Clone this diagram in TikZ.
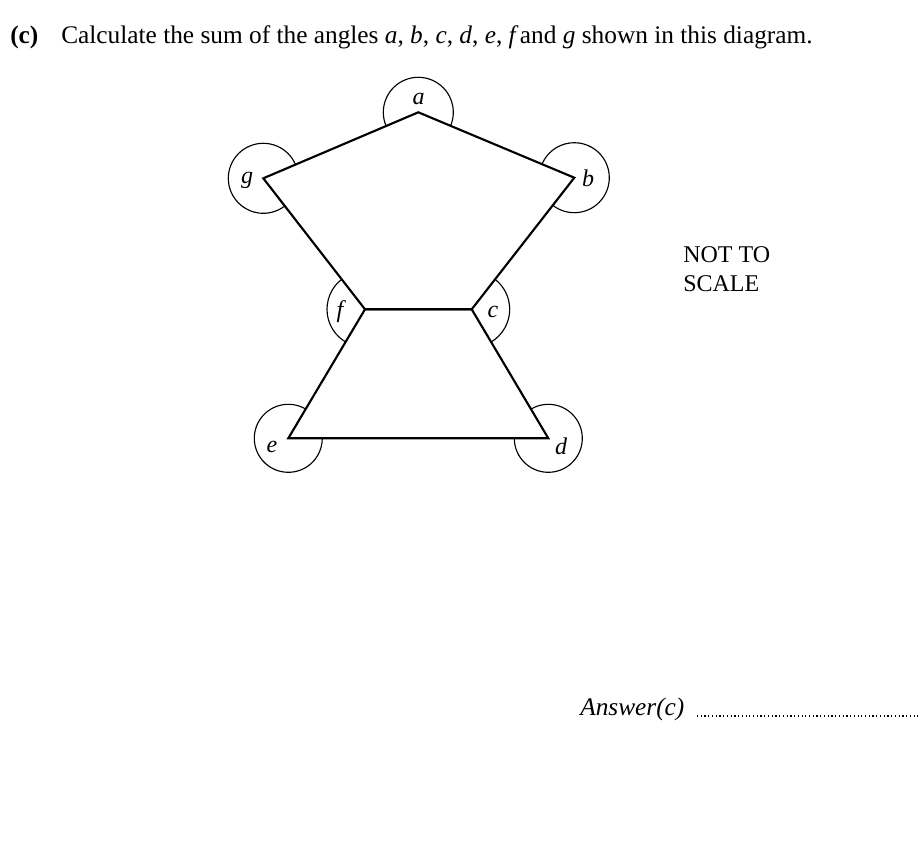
\documentclass[tikz,border=0pt]{standalone}
\usepackage{fontspec}
\setmainfont{Liberation Serif}
\usetikzlibrary{angles}
\tikzset{
  edge/.style={line width=1.6pt, line join=miter},
  anglearc/.style={draw, line width=0.85pt},
  lbl/.style={font=\fontsize{18}{20}\selectfont\itshape, inner sep=0pt},
  body/.style={font=\fontsize{19}{22}\selectfont, inner sep=0pt, anchor=base west},
  side/.style={font=\fontsize{18}{21}\selectfont, inner sep=0pt, anchor=base west},
}
\begin{document}
\begin{tikzpicture}[x=0.75pt, y=-0.75pt]
\useasboundingbox (0,0) rectangle (921,853);
% vertices
\coordinate (A) at (418.3,112.3);
\coordinate (B) at (574.3,177.7);
\coordinate (G) at (263.3,178.3);
\coordinate (F) at (365,309.3);
\coordinate (C) at (471.7,309.3);
\coordinate (E) at (288.3,438.3);
\coordinate (D) at (548.3,438.3);
% shapes
\draw[edge] (A) -- (B) -- (C) -- (F) -- (G) -- cycle;
\draw[edge] (F) -- (C) -- (D) -- (E) -- cycle;
% angle arcs
\pic[anglearc, angle radius=26.25pt] {angle = B--A--G};
\pic[anglearc, angle radius=26.25pt] {angle = A--G--F};
\pic[anglearc, angle radius=26.25pt] {angle = C--B--A};
\pic[anglearc, angle radius=28.5pt] {angle = G--F--E};
\pic[anglearc, angle radius=28.5pt] {angle = D--C--B};
\pic[anglearc, angle radius=25.5pt] {angle = F--E--D};
\pic[anglearc, angle radius=25.5pt] {angle = E--D--C};
% angle labels
\node[lbl] (la) at (418.5,99) {a};
\node[lbl] (lg) at (247,180) {g};
\node[lbl] (lb) at (588,178) {b};
\node[lbl] (lf) at (340,312) {f};
\node[lbl] (lc) at (493,312) {c};
\node[lbl] (le) at (272,447) {e};
\node[lbl] (ld) at (561,446) {d};
% texts
\node[body] (qnum) at (10,43) {\bfseries (c)};
\node[body] (qtext) at (61,43) {Calculate the sum of the angles \textit{a}, \textit{b}, \textit{c}, \textit{d}, \textit{e}, \textit{f\,}and \textit{g} shown in this diagram.};
\node[side] (nt1) at (683,262) {NOT TO};
\node[side] (nt2) at (683,291.5) {SCALE};
\node[body] (ans) at (580,715) {\itshape Answer(c)};
\coordinate (dotstart) at (697,716);
\coordinate (dotend) at (921,716);
\draw[line width=1pt, dash pattern=on 0.9pt off 1.9pt] (dotstart) -- (dotend);
\end{tikzpicture}
\end{document}
